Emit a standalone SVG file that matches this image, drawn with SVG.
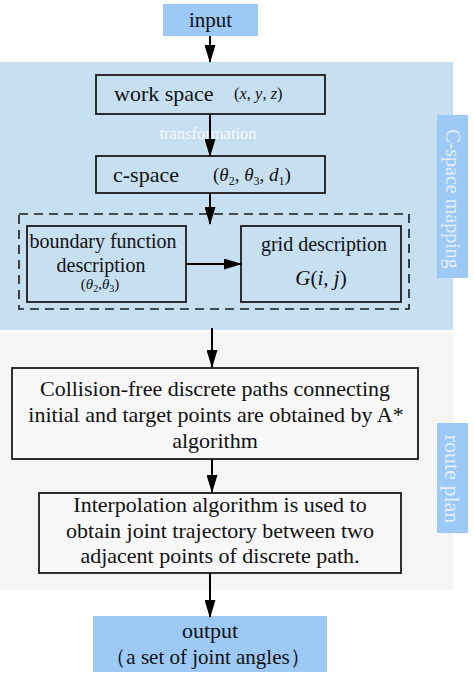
<svg xmlns="http://www.w3.org/2000/svg" width="474" height="681" viewBox="0 0 474 681">
<defs>
<style>
.t{font-family:"Liberation Serif","Times New Roman",serif;fill:#111}
.box{fill:none;stroke:#1a1a1a;stroke-width:1.8}
.wbox{fill:#f8f8f8;stroke:#1a1a1a;stroke-width:1.8}
.lbl{fill:#9cc9f5}
.side{font-family:"Liberation Serif","Times New Roman",serif;fill:#e2effb}
.conn{stroke:#000;stroke-width:2;fill:none}
</style>
<marker id="ah" markerUnits="userSpaceOnUse" markerWidth="18" markerHeight="11" refX="17" refY="5.5" orient="auto" viewBox="0 0 18 11">
<path d="M0,0 L18,5.5 L0,11 Z" fill="#000"/>
</marker>
</defs>
<rect width="474" height="681" fill="#ffffff"/>
<g id="region-cspace">
<rect x="0" y="62" width="453" height="268" fill="#c6e0f1"/>
<rect class="lbl" x="437" y="115" width="31" height="163"/>
<text class="side" font-size="20" text-anchor="middle" transform="translate(446,199) rotate(90)">C-space mapping</text>
</g>
<g id="region-route">
<rect x="0" y="332" width="453" height="258" fill="#f5f5f5"/>
<rect class="lbl" x="437" y="423" width="31" height="110"/>
<text class="side" font-size="22" text-anchor="middle" transform="translate(445,479) rotate(90)">route plan</text>
</g>
<g id="input">
<rect class="lbl" x="163" y="4" width="95" height="32"/>
<text class="t" x="210.5" y="27" font-size="21" text-anchor="middle">input</text>
</g>
<g id="workspace">
<rect class="box" x="96" y="75" width="229" height="39"/>
<text class="t" x="114" y="101" font-size="22">work space</text>
<text class="t" x="234" y="99" font-size="16.5">(<tspan font-style="italic">x</tspan>, <tspan font-style="italic">y</tspan>, <tspan font-style="italic">z</tspan>)</text>
</g>
<text id="transformation-label" x="208" y="139" font-family="Liberation Serif, serif" font-size="16.5" fill="#f4f8fc" text-anchor="middle">transformation</text>
<g id="cspace">
<rect class="box" x="96" y="156" width="229" height="37"/>
<text class="t" x="113" y="182" font-size="22">c-space</text>
<text class="t" x="213" y="181" font-size="19">(<tspan font-style="italic">θ</tspan><tspan font-size="12" dy="4">2</tspan><tspan dy="-4">, </tspan><tspan font-style="italic">θ</tspan><tspan font-size="12" dy="4">3</tspan><tspan dy="-4">, </tspan><tspan font-style="italic">d</tspan><tspan font-size="12" dy="4">1</tspan><tspan dy="-4">)</tspan></text>
</g>
<g id="dashed-group">
<rect x="19" y="214" width="390" height="95" fill="none" stroke="#1a1a1a" stroke-width="1.6" stroke-dasharray="9,6"/>
</g>
<g id="boundary">
<rect class="box" x="27" y="226" width="159" height="76"/>
<text class="t" x="103" y="248" font-size="20" text-anchor="middle">boundary function</text>
<text class="t" x="101" y="272" font-size="20" text-anchor="middle">description</text>
<text class="t" x="100" y="289" font-size="15" text-anchor="middle">(<tspan font-style="italic">θ</tspan><tspan font-size="10" dy="3">2</tspan><tspan dy="-3">,</tspan><tspan font-style="italic">θ</tspan><tspan font-size="10" dy="3">3</tspan><tspan dy="-3">)</tspan></text>
</g>
<g id="grid">
<rect class="box" x="241" y="226" width="160" height="76"/>
<text class="t" x="324" y="251" font-size="20" text-anchor="middle">grid description</text>
<text class="t" x="321" y="285" font-size="21" text-anchor="middle"><tspan font-style="italic">G</tspan>(<tspan font-style="italic">i</tspan>, <tspan font-style="italic">j</tspan>)</text>
</g>
<g id="collision">
<rect class="wbox" x="12" y="368" width="406" height="91"/>
<text class="t" x="215" y="396" font-size="22" text-anchor="middle">Collision-free discrete paths connecting</text>
<text class="t" x="216" y="422" font-size="22" text-anchor="middle">initial and target points are obtained by A*</text>
<text class="t" x="215" y="448" font-size="22" text-anchor="middle">algorithm</text>
</g>
<g id="interpolation">
<rect class="wbox" x="39" y="493" width="362" height="80"/>
<text class="t" x="220" y="512" font-size="22" text-anchor="middle">Interpolation algorithm is used to</text>
<text class="t" x="220" y="538" font-size="22" text-anchor="middle">obtain joint trajectory between two</text>
<text class="t" x="220" y="563" font-size="22" text-anchor="middle">adjacent points of discrete path.</text>
</g>
<g id="output">
<rect class="lbl" x="93" y="616" width="234" height="56"/>
<text class="t" x="210" y="638" font-size="22" text-anchor="middle">output</text>
<text class="t" x="208" y="664" font-size="21" text-anchor="middle">（a set of joint angles）</text>
</g>
<g id="connectors">
<line class="conn" x1="210" y1="36" x2="210" y2="62" marker-end="url(#ah)"/>
<line class="conn" x1="210" y1="114" x2="210" y2="156" marker-end="url(#ah)"/>
<line class="conn" x1="210" y1="193" x2="210" y2="224" marker-end="url(#ah)"/>
<line class="conn" x1="186" y1="264" x2="241" y2="264" marker-end="url(#ah)"/>
<line class="conn" x1="212" y1="328" x2="212" y2="367" marker-end="url(#ah)"/>
<line class="conn" x1="212" y1="459" x2="212" y2="492" marker-end="url(#ah)"/>
<line class="conn" x1="210" y1="573" x2="210" y2="617" marker-end="url(#ah)"/>
</g>
</svg>
